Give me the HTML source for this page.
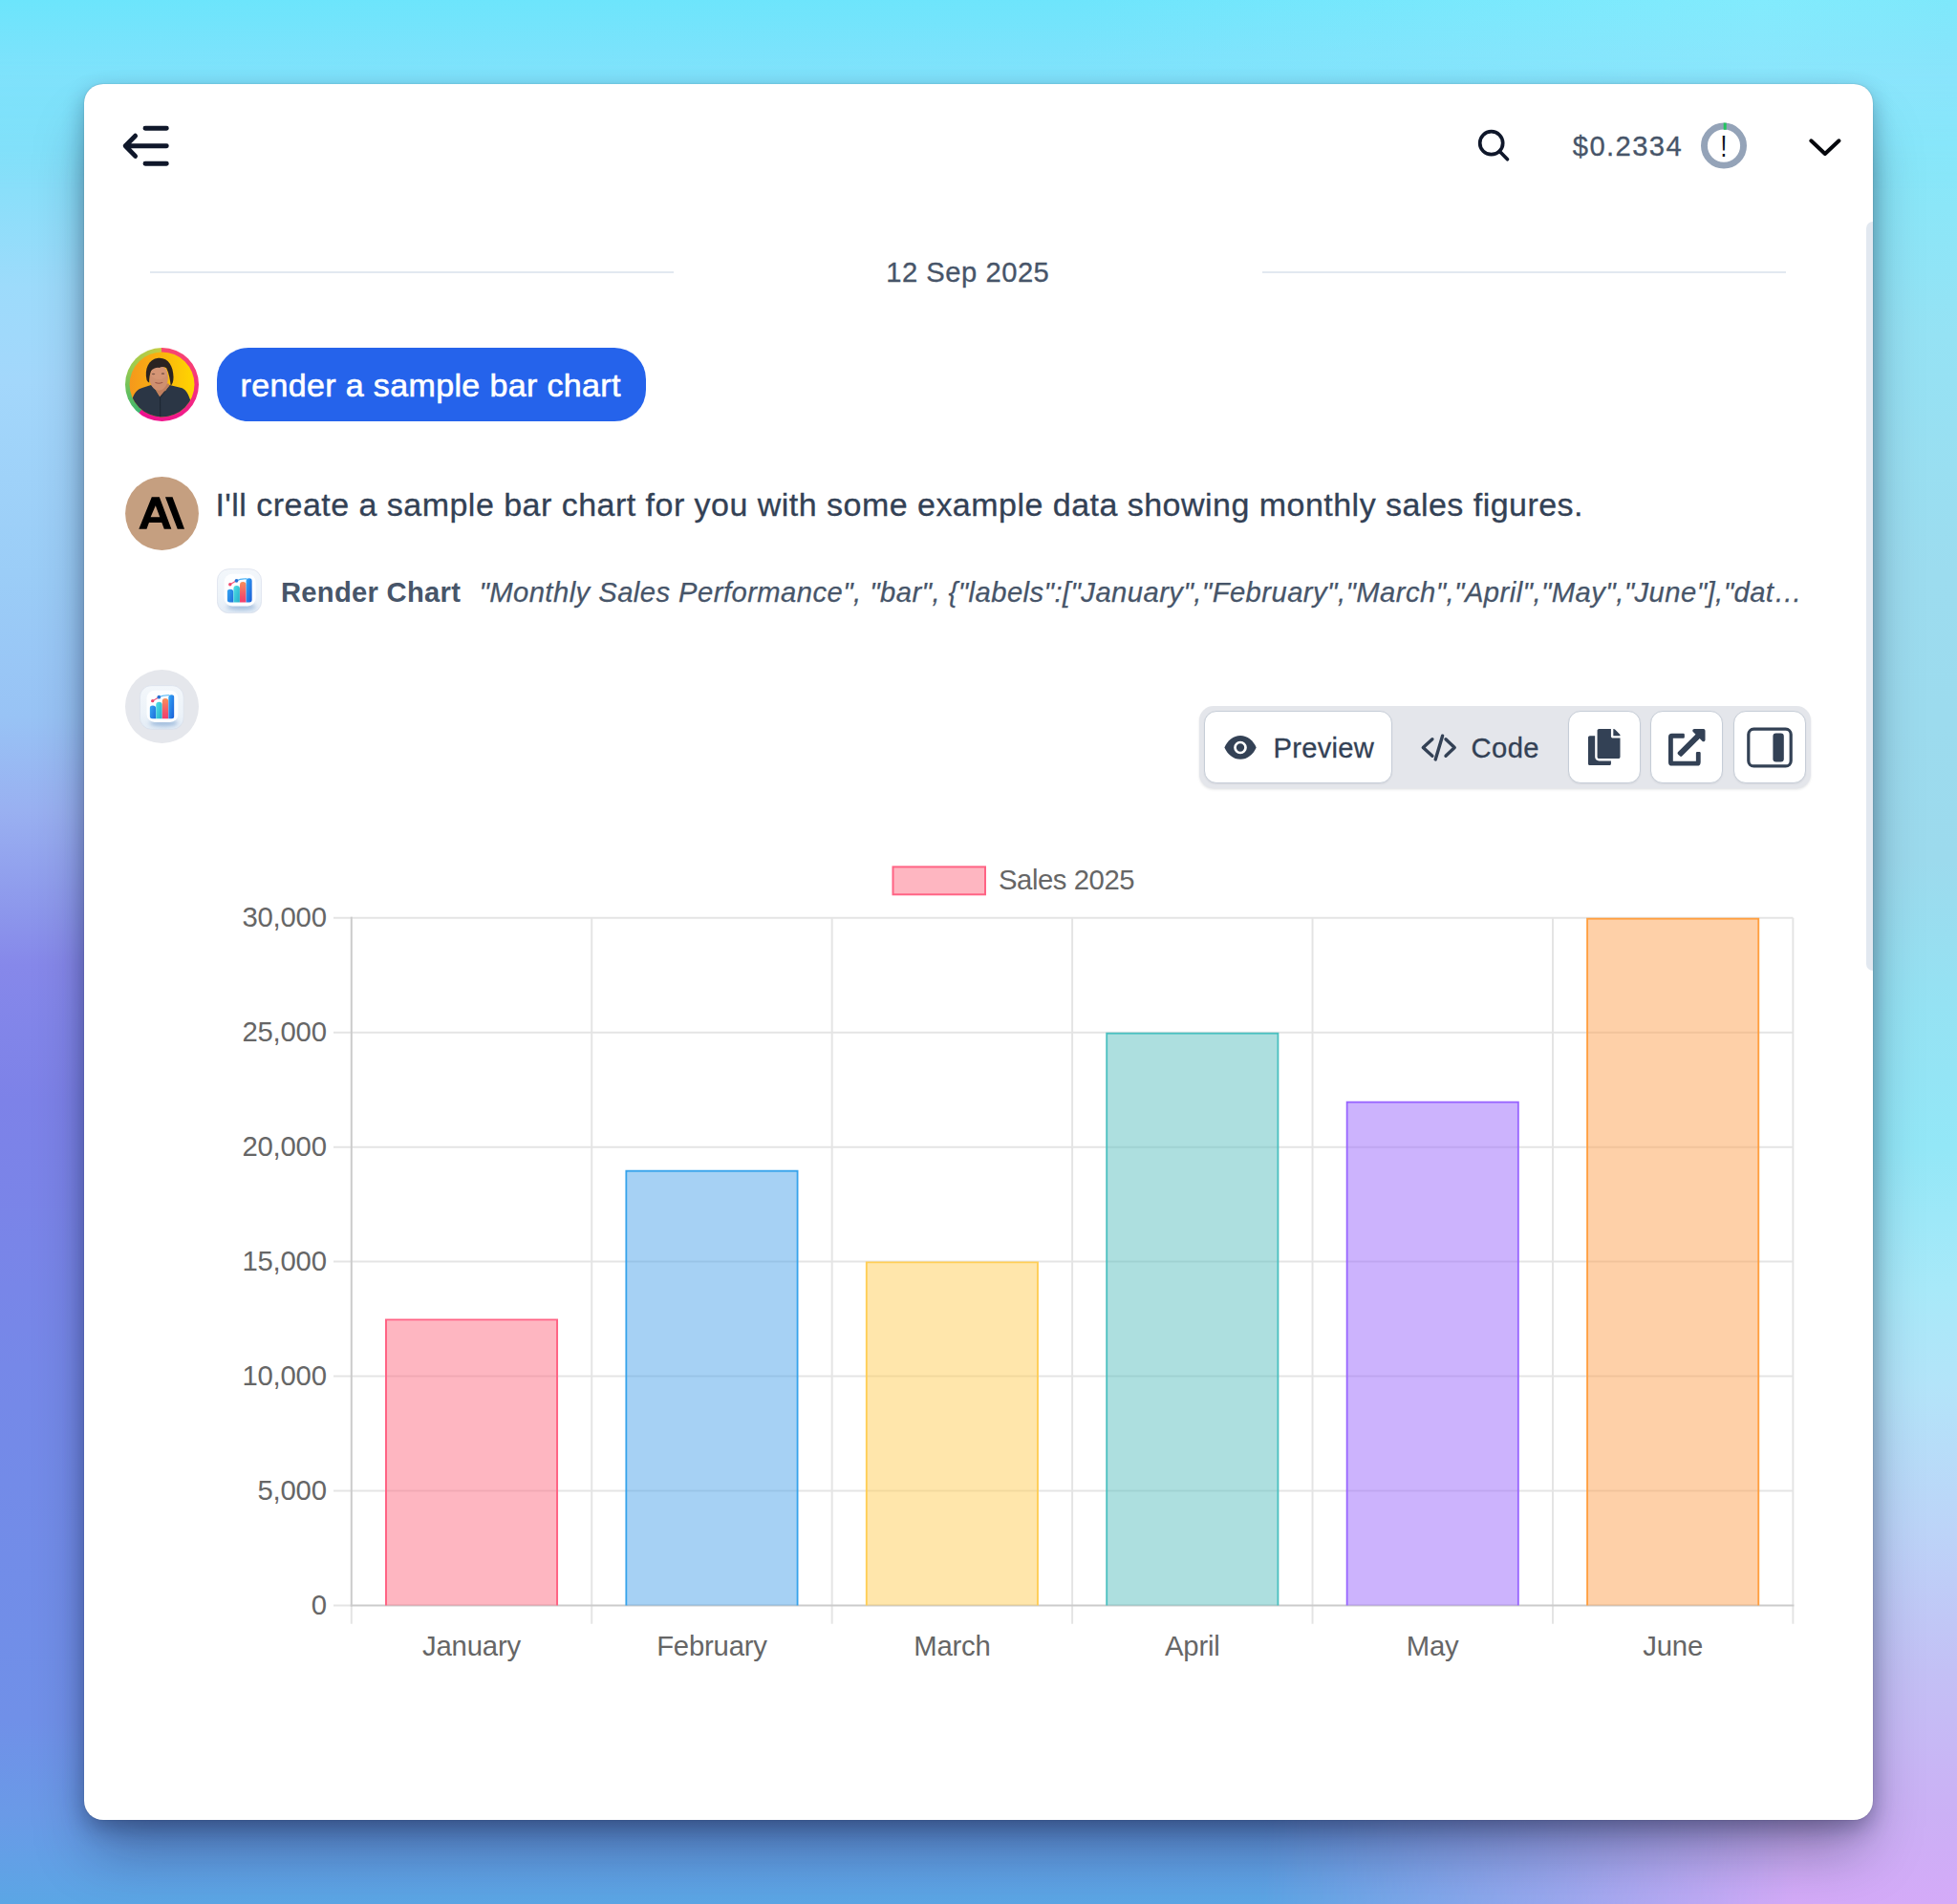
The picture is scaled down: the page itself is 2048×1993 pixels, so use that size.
<!DOCTYPE html>
<html lang="en">
<head>
<meta charset="utf-8">
<title>Chat – render a sample bar chart</title>
<style>
*{box-sizing:border-box;margin:0;padding:0}
html,body{width:2048px;height:1993px;overflow:hidden}
body{position:relative;font-family:"Liberation Sans",Arial,sans-serif;background:#7adff7}
.abs{position:absolute}
.bg{position:absolute;left:0;top:0;width:2048px;height:1993px}
.bgL{background:linear-gradient(180deg,#6fe1f9 0px,#76e1f9 90px,#8adffa 200px,#9ddbfb 300px,#a3d7fb 400px,#9bcdf7 600px,#98c3f5 750px,#99b0f1 850px,#8d98ec 950px,#8688ea 1010px,#7d82e8 1150px,#7886e8 1350px,#738be8 1550px,#7090e8 1800px,#6a9ae7 1900px,#5ba6e5 1993px)}
.bgR{background:linear-gradient(180deg,#84eafc 0px,#86e8fa 150px,#95e2f4 350px,#9cdcef 600px,#9cdaed 900px,#95e2f3 1050px,#93e7f7 1200px,#a8e9f9 1350px,#b3e4f9 1450px,#bcd4f8 1600px,#c3c0f5 1750px,#cbb0f5 1900px,#d4aaf8 1993px);
 -webkit-mask-image:linear-gradient(93deg,transparent 0%,transparent 66%,rgba(0,0,0,.5) 80%,#000 92%);mask-image:linear-gradient(93deg,transparent 0%,transparent 66%,rgba(0,0,0,.5) 80%,#000 92%)}
.bgT{background:linear-gradient(180deg,rgba(150,222,251,0) 0px,rgba(150,222,251,.5) 85px,rgba(150,222,251,.5) 200px),linear-gradient(90deg,#6ce5fc 0%,#6ee5fc 55%,#82ebfd 90%,#7ee8fb 100%);height:200px;
 -webkit-mask-image:linear-gradient(180deg,#000 0,#000 60px,transparent 200px);mask-image:linear-gradient(180deg,#000 0,#000 60px,transparent 200px)}
.win{position:absolute;left:88px;top:88px;width:1872px;height:1817px;background:#fff;border-radius:20px;
 box-shadow:0 0 1.5px rgba(8,18,45,.25),0 8px 22px rgba(8,18,45,.3),0 40px 60px -10px rgba(8,18,45,.36)}
.tb{background:#fff;border:1.7px solid #c6cdd7;border-radius:13px;box-shadow:0 1px 2px rgba(15,23,42,.06)}
.txt{position:absolute;white-space:nowrap;line-height:1}
</style>
</head>
<body>
<div class="bg bgL"></div>
<div class="bg bgR"></div>
<div class="bg bgT"></div>
<div class="win"></div>

<!-- header -->
<svg class="abs" style="left:120px;top:124px" width="64" height="58" viewBox="120 124 64 58" fill="none" stroke="#0f172a" stroke-width="4.900" stroke-linecap="round" stroke-linejoin="round">
<path d="M152 134.2H174.3M131.2 152.8H174.3M152 171.2H174.3M141.6 142.2L131.2 152.8L141.6 163.4"/>
</svg>
<svg class="abs" style="left:1540px;top:128px" width="48" height="48" viewBox="1540 128 48 48" fill="none" stroke="#0f172a" stroke-width="3.7" stroke-linecap="round">
<circle cx="1560.7" cy="149.7" r="12"/><path d="M1569.2 158.3L1577.5 166.8"/>
</svg>
<div class="txt" id="cost" style="left:1645.8px;top:139.2px;font-size:29.2px;color:#475569;letter-spacing:1.4px;-webkit-text-stroke:.3px #475569">$0.2334</div>
<svg class="abs" style="left:1776px;top:124px" width="56" height="56" viewBox="1776 124 56 56" fill="none">
<circle cx="1804" cy="152.600" r="20.55" stroke="#94a3b8" stroke-width="6.900"/>
<path d="M1805.2 128.6V135.800" stroke="#22c55e" stroke-width="3"/>
<text x="1803.900" y="163.900" text-anchor="middle" font-family="'Liberation Sans',Arial,sans-serif" font-size="30.5" fill="#0b1120" transform="translate(1803.900 0) scale(.8 1) translate(-1803.900 0)">!</text>
</svg>
<svg class="abs" style="left:1886px;top:136px" width="48" height="36" viewBox="1886 136 48 36" fill="none" stroke="#05070c" stroke-width="4" stroke-linejoin="round" stroke-linecap="round">
<path d="M1895.300 147.300L1909.900 161L1924.500 147.300"/>
</svg>

<!-- date divider -->
<div class="abs" style="left:157px;top:283.6px;width:548px;height:2.2px;background:#e2e8f0"></div>
<div class="abs" style="left:1321px;top:283.6px;width:548px;height:2.2px;background:#e2e8f0"></div>
<div class="txt" id="date" style="left:927.3px;top:271.4px;font-size:29.2px;color:#475569;letter-spacing:.5px;-webkit-text-stroke:.3px #475569">12 Sep 2025</div>

<!-- scrollbar -->
<div class="abs" style="left:1953px;top:232px;width:7px;height:784px;background:#e2e8f0;border-radius:7px 0 0 7px"></div>

<!-- user message -->
<div class="abs" style="left:131.1px;top:364.1px;width:76.8px;height:76.8px;border-radius:50%;background:conic-gradient(from 0deg,#f8486e 0deg,#f63a78 70deg,#f01a8a 150deg,#ee1090 218.5deg,#3db56e 219.5deg,#62bf5e 255deg,#9ccb4e 300deg,#c6cc44 359deg,#f8486e 360deg)"></div>
<svg class="abs" style="left:125px;top:357px" width="90" height="90" viewBox="0 0 1904 1904">
<defs>
<linearGradient id="avbg" x1="0" y1="0" x2="1" y2="0"><stop offset="0" stop-color="#f5981c"/><stop offset=".45" stop-color="#f9b20f"/><stop offset="1" stop-color="#ffd600"/></linearGradient>
<clipPath id="avclip"><circle cx="942" cy="962" r="718"/></clipPath>
</defs>
<circle cx="942" cy="962" r="718" fill="url(#avbg)"/>
<g clip-path="url(#avclip)">
<path d="M280 1300C320 1150 400 1060 520 1030L700 975C770 1000 820 1110 900 1240C980 1150 1050 1050 1110 975L1390 1040C1480 1080 1540 1200 1580 1340L1620 1750H280Z" fill="#2b3645"/>
<path d="M720 940L1090 940L1110 985C1050 1060 980 1160 900 1245C820 1120 770 1010 700 980Z" fill="#bf7f5f"/>
<ellipse cx="872" cy="815" rx="206" ry="278" fill="#cf9070"/><ellipse cx="872" cy="700" rx="190" ry="150" fill="#d89a78" opacity=".6"/>
<path d="M604 860C552 620 640 400 860 375C1070 355 1192 540 1196 800C1196 900 1172 960 1136 988C1122 870 1100 720 1040 600C985 560 930 560 880 590C820 575 740 610 700 660C672 730 656 830 660 918C630 902 612 886 604 860Z" fill="#2a2321"/>
<ellipse cx="752" cy="728" rx="38" ry="16" fill="#3a2824" opacity=".55"/><ellipse cx="962" cy="722" rx="38" ry="16" fill="#3a2824" opacity=".55"/>
<path d="M800 922Q875 950 950 918" stroke="#9a5647" stroke-width="22" fill="none" stroke-linecap="round"/>
<path d="M900 1245L1010 1110M900 1245L905 1700" stroke="#1d2632" stroke-width="22" fill="none"/>
</g>
</svg>
<div class="abs" style="left:227px;top:364px;width:449px;height:77px;border-radius:33px;background:#2563eb"></div>
<div class="txt" id="utext" style="left:251.5px;top:385.5px;font-size:34px;color:#fff;letter-spacing:.36px;-webkit-text-stroke:.6px #fff">render a sample bar chart</div>

<!-- assistant message -->
<svg class="abs" style="left:125px;top:492px" width="90" height="90" viewBox="0 0 1904 1904">
<circle cx="942" cy="962" r="813" fill="#c59f80"/>
<path fill-rule="evenodd" d="M715 600H885L1150 1305H990L937 1165H655L602 1305H430ZM800 790L895 1040H690Z" fill="#000"/>
<path d="M1015 600H1175L1440 1305H1285Z" fill="#000"/>
</svg>
<div class="txt" id="atext" style="left:225.4px;top:510.9px;font-size:34px;color:#334155;letter-spacing:.475px;-webkit-text-stroke:.3px #334155">I'll create a sample bar chart for you with some example data showing monthly sales figures.</div>

<div class="txt" id="rc" style="left:294px;top:605.5px;font-size:29.2px;font-weight:700;color:#475569;letter-spacing:.27px">Render Chart</div>
<div class="txt" id="args" style="left:501.4px;top:605.5px;font-size:29.2px;font-style:italic;color:#475569;letter-spacing:.46px;-webkit-text-stroke:.25px #475569">"Monthly Sales Performance", "bar", {"labels":["January","February","March","April","May","June"],"dat…</div>

<!-- icon defs -->
<svg width="0" height="0" style="position:absolute">
<defs>
<linearGradient id="icbg" x1="0" y1="0" x2="0" y2="1"><stop offset="0" stop-color="#f3f7fb"/><stop offset=".6" stop-color="#edf3f9"/><stop offset="1" stop-color="#e3ecf6"/></linearGradient>
<linearGradient id="b1" x1="0" y1="0" x2="1" y2="1"><stop offset="0" stop-color="#35a8f5"/><stop offset="1" stop-color="#1b62d4"/></linearGradient>
<linearGradient id="b2" x1="0" y1="0" x2="1" y2="1"><stop offset="0" stop-color="#4fe0e6"/><stop offset="1" stop-color="#1fa5c6"/></linearGradient>
<linearGradient id="b3" x1="0" y1="0" x2="0" y2="1"><stop offset="0" stop-color="#f9905a"/><stop offset=".55" stop-color="#f4506a"/><stop offset="1" stop-color="#ee2d74"/></linearGradient>
<linearGradient id="b4" x1="0" y1="0" x2="1" y2="1"><stop offset="0" stop-color="#34aaf8"/><stop offset="1" stop-color="#144fd0"/></linearGradient>
<filter id="icblur" x="-30%" y="-30%" width="160%" height="160%"><feGaussianBlur stdDeviation="2.2"/></filter>
<clipPath id="barclip"><path d="M10.7 8H36.8V32.3a3 3 0 0 1-3 3H13.7a3 3 0 0 1-3-3Z"/></clipPath>
<clipPath id="icclip"><rect x="0" y="0" width="47" height="47" rx="12.5"/></clipPath>
<symbol id="chartico" viewBox="0 0 47 47">
<rect x=".4" y=".4" width="46.2" height="46.2" rx="12.2" fill="url(#icbg)" stroke="#d5dbe8" stroke-opacity=".7" stroke-width=".9"/>
<g clip-path="url(#icclip)"><ellipse cx="25.5" cy="40" rx="15" ry="3.6" fill="#8fb0d6" opacity=".75" filter="url(#icblur)"/></g>
<rect x="7.6" y="5.5" width="33.1" height="33.7" rx="8.5" fill="#fdfeff"/>
<g clip-path="url(#barclip)">
<rect x="10.7" y="21.5" width="6.6" height="20" rx="3.3" fill="url(#b1)"/>
<rect x="17.4" y="17.8" width="6.5" height="24" rx="3.25" fill="url(#b2)"/>
<rect x="24" y="13.8" width="6.5" height="28" rx="3.25" fill="url(#b3)"/>
<rect x="30.6" y="10.1" width="6.2" height="32" rx="3.1" fill="url(#b4)"/>
</g>
<path d="M13.8 16.6L20.5 12.6" stroke="#f2557a" stroke-width="1.1" fill="none"/>
<path d="M20.5 12.6Q25 10.3 31.5 10.7" stroke="#49b2f5" stroke-width="1.1" fill="none"/>
<circle cx="13.8" cy="16.6" r="1.7" fill="#f0486c"/><circle cx="20.5" cy="12.6" r="1.9" fill="#2a6fd2"/>
</symbol>
</defs>
</svg>

<!-- tool call icon -->
<svg class="abs" style="left:227.4px;top:595.3px" width="47" height="47.4"><use href="#chartico"/></svg>

<!-- tool avatar -->
<div class="abs" style="left:131px;top:700.8px;width:77px;height:77.2px;border-radius:50%;background:#e5e7ec"></div>
<svg class="abs" style="left:146.2px;top:716.6px" width="46.6" height="47"><use href="#chartico"/></svg>

<!-- toolbar -->
<div class="abs" style="left:1255px;top:739.2px;width:640.3px;height:86px;border-radius:15px;background:#e4e6eb;box-shadow:0 2px 3px rgba(15,23,42,.07),0 1px 2px rgba(15,23,42,.05)"></div>
<div class="abs tb" style="left:1259.8px;top:744.2px;width:197.2px;height:76px"></div>
<div class="abs tb" style="left:1640.6px;top:744.2px;width:76px;height:76px"></div>
<div class="abs tb" style="left:1727.4px;top:744.2px;width:76px;height:76px"></div>
<div class="abs tb" style="left:1814px;top:744.2px;width:76px;height:76px"></div>
<svg class="abs" style="left:1276px;top:764px" width="44" height="37" viewBox="1276 764 44 37"><path fill="#334155" d="M1281.400 782.450C1284.600 775.400 1290.600 770.100 1298.050 770.100C1305.500 770.100 1311.500 775.400 1314.700 782.450C1311.500 789.500 1305.500 794.800 1298.050 794.800C1290.600 794.800 1284.600 789.500 1281.400 782.450Z"/><circle cx="1298" cy="782.500" r="5.500" fill="#334155" stroke="#fff" stroke-width="2.700"/></svg>
<div class="txt" id="prev" style="left:1332.6px;top:768.6px;font-size:29.2px;color:#334155;letter-spacing:.25px;-webkit-text-stroke:.3px #334155">Preview</div>
<svg class="abs" style="left:1484px;top:764px" width="44" height="38" viewBox="1484 764 44 38" fill="none" stroke="#334155" stroke-width="3.400" stroke-linecap="round" stroke-linejoin="round"><path d="M1498.900 773.700L1489.300 782.500L1498.900 791.300M1509.600 770.200L1502.200 794.900M1513 773.700L1522.200 782.500L1513 791.300"/></svg>
<div class="txt" id="code" style="left:1539.6px;top:768.6px;font-size:29.2px;color:#334155;letter-spacing:.4px;-webkit-text-stroke:.3px #334155">Code</div>
<svg class="abs" style="left:1662.100px;top:763.200px" width="33.51" height="38.3" viewBox="0 0 448 512"><path fill="#334155" d="M320 448v40c0 13.255-10.745 24-24 24H24c-13.255 0-24-10.745-24-24V120c0-13.255 10.745-24 24-24h72v296c0 30.879 25.121 56 56 56h168zm0-344V0H152c-13.255 0-24 10.745-24 24v368c0 13.255 10.745 24 24 24h272c13.255 0 24-10.745 24-24V128H344c-13.200 0-24-10.800-24-24zm120.971-31.029L375.029 7.029A24 24 0 0 0 358.059 0H352v96h96v-6.059a24 24 0 0 0-7.029-16.970z"/></svg>
<svg class="abs" style="left:1746.200px;top:763.200px" width="38.5" height="38.5" viewBox="0 0 512 512"><path fill="#334155" d="M432,320H400a16,16,0,0,0-16,16V448H64V128H208a16,16,0,0,0,16-16V80a16,16,0,0,0-16-16H48A48,48,0,0,0,0,112V464a48,48,0,0,0,48,48H400a48,48,0,0,0,48-48V336A16,16,0,0,0,432,320ZM488,0h-128c-21.370,0-32.050,25.910-17,41l35.730,35.730L135,320.370a24,24,0,0,0,0,34L157.670,377a24,24,0,0,0,34,0L435.280,133.320,471,169c15,15,41,4.500,41-17V24A24,24,0,0,0,488,0Z"/></svg>
<svg class="abs" style="left:1824px;top:758px" width="56" height="50" viewBox="1824 758 56 50"><rect x="1829.800" y="763.200" width="44.400" height="38.700" rx="5.500" fill="none" stroke="#334155" stroke-width="3.200"/><rect x="1855.400" y="767.600" width="11.400" height="29.800" rx="3.200" fill="#334155"/></svg>

<!-- chart -->
<svg class="abs" style="left:0;top:880px" width="2048" height="900" viewBox="0 880 2048 900" font-family="'Liberation Sans',Arial,sans-serif" font-size="29.3" letter-spacing="-.2" fill="#666">
<path d="M349.0 960.70H1876.4M349.0 1080.67H1876.4M349.0 1200.63H1876.4M349.0 1320.60H1876.4M349.0 1440.57H1876.4M349.0 1560.53H1876.4M349.0 1680.50H1876.4M367.80 960.7V1699.7M619.23 960.7V1699.7M870.67 960.7V1699.7M1122.10 960.7V1699.7M1373.53 960.7V1699.7M1624.97 960.7V1699.7M1876.40 960.7V1699.7" stroke="#000" stroke-opacity=".105" stroke-width="2" fill="none"/>
<path d="M367.80 959.5V1681.7M366.6 1680.50H1877.6" stroke="#000" stroke-opacity=".105" stroke-width="2" fill="none"/>
<rect x="405.00" y="1382.58" width="177.03" height="297.92" fill="rgb(253,109,131)" fill-opacity=".5"/>
<path d="M403.00 1680.50V1380.58H584.03V1680.50H582.03V1382.58H405.00V1680.50Z" fill="rgb(255,99,132)"/>
<rect x="656.43" y="1226.63" width="177.03" height="453.87" fill="rgb(77,163,233)" fill-opacity=".5"/>
<path d="M654.43 1680.50V1224.63H835.47V1680.50H833.47V1226.63H656.43V1680.50Z" fill="rgb(54,162,235)"/>
<rect x="907.87" y="1322.60" width="177.03" height="357.90" fill="rgb(255,206,88)" fill-opacity=".5"/>
<path d="M905.87 1680.50V1320.60H1086.90V1680.50H1084.90V1322.60H907.87V1680.50Z" fill="rgb(255,206,86)"/>
<rect x="1159.30" y="1082.67" width="177.03" height="597.83" fill="rgb(91,191,191)" fill-opacity=".5"/>
<path d="M1157.30 1680.50V1080.67H1338.33V1680.50H1336.33V1082.67H1159.30V1680.50Z" fill="rgb(75,192,192)"/>
<rect x="1410.73" y="1154.65" width="177.03" height="525.85" fill="rgb(153,103,251)" fill-opacity=".5"/>
<path d="M1408.73 1680.50V1152.65H1589.77V1680.50H1587.77V1154.65H1410.73V1680.50Z" fill="rgb(153,102,255)"/>
<rect x="1662.17" y="962.70" width="177.03" height="717.80" fill="rgb(253,161,81)" fill-opacity=".5"/>
<path d="M1660.17 1680.50V960.70H1841.20V1680.50H1839.20V962.70H1662.17V1680.50Z" fill="rgb(255,159,64)"/>
<text x="493.5" y="1733.3" text-anchor="middle">January</text>
<text x="745.0" y="1733.3" text-anchor="middle">February</text>
<text x="996.4" y="1733.3" text-anchor="middle">March</text>
<text x="1247.8" y="1733.3" text-anchor="middle">April</text>
<text x="1499.2" y="1733.3" text-anchor="middle">May</text>
<text x="1750.7" y="1733.3" text-anchor="middle">June</text>
<text x="341.8" y="969.7" text-anchor="end">30,000</text>
<text x="341.8" y="1089.7" text-anchor="end">25,000</text>
<text x="341.8" y="1209.6" text-anchor="end">20,000</text>
<text x="341.8" y="1329.6" text-anchor="end">15,000</text>
<text x="341.8" y="1449.6" text-anchor="end">10,000</text>
<text x="341.8" y="1569.5" text-anchor="end">5,000</text>
<text x="341.8" y="1689.5" text-anchor="end">0</text>
<rect x="934.5" y="907.4" width="96.5" height="28.9" fill="rgb(253,109,131)" fill-opacity=".5" stroke="rgb(255,99,132)" stroke-width="2"/>
<text x="1045" y="931.2" letter-spacing="-.45">Sales 2025</text>
</svg>
</body>
</html>
